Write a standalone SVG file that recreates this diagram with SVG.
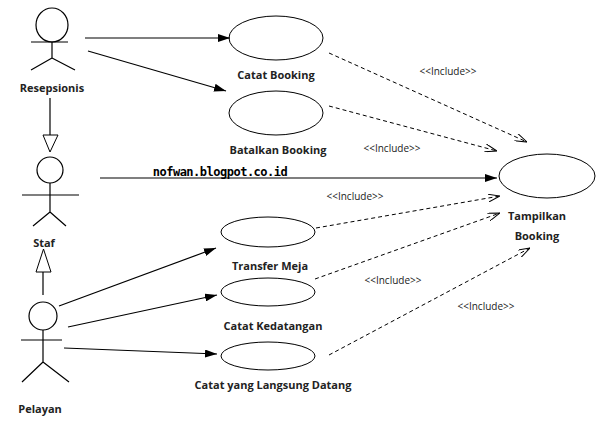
<svg xmlns="http://www.w3.org/2000/svg" width="615" height="425" viewBox="0 0 615 425">
<defs>
<marker id="a" markerWidth="12" markerHeight="8" refX="12" refY="4" orient="auto" markerUnits="userSpaceOnUse"><path d="M0,0 L12,4 L0,8 Z" fill="#000"/></marker>
<marker id="d" markerWidth="12" markerHeight="8" refX="12" refY="4" orient="auto" markerUnits="userSpaceOnUse"><path d="M0,0 L12,4 L0,8" fill="none" stroke="#000"/></marker>
<style>
text{font-family:"Open Sans","Liberation Sans",sans-serif;font-size:11px;font-weight:bold;fill:#222;text-anchor:middle}
.s{stroke:#000;stroke-width:1.2;fill:none}
.e{stroke:#000;stroke-width:1;fill:#fff}
.dash{stroke:#000;stroke-width:1;fill:none;stroke-dasharray:4,3}
.inc{font-size:10px;font-weight:normal}
</style>
</defs>
<rect width="615" height="425" fill="#fff"/>
<g id="resepsionis" class="s"><ellipse cx="52" cy="25" rx="16" ry="17"/><path d="M31,42H68M52,42V58M52,58L31,70M52,58L75,70"/><text x="52" y="92" stroke="none">Resepsionis</text></g>
<g id="staf" class="s"><circle cx="50" cy="170" r="13"/><path d="M22,195H79M50,183V212M50,212L33,226M50,212L66,226"/><text x="44" y="247" stroke="none">Staf</text></g>
<g id="pelayan" class="s"><circle cx="43" cy="316" r="14"/><path d="M21,340H62M43,330V362M43,362L22,382M43,362L69,382"/><text x="40" y="413" stroke="none">Pelayan</text></g>
<g id="uc1"><ellipse class="e" cx="276" cy="38" rx="47" ry="22"/><text x="276" y="79">Catat Booking</text></g>
<g id="uc2"><ellipse class="e" cx="276" cy="113" rx="47" ry="22"/><text x="278" y="154">Batalkan Booking</text></g>
<g id="uc3"><ellipse class="e" cx="547" cy="176" rx="48" ry="22"/><text x="537" y="220">Tampilkan</text><text x="537" y="240">Booking</text></g>
<g id="uc4"><ellipse class="e" cx="268" cy="232" rx="47" ry="15"/><text x="270" y="270">Transfer Meja</text></g>
<g id="uc5"><ellipse class="e" cx="268" cy="292" rx="47" ry="14"/><text x="273" y="330">Catat Kedatangan</text></g>
<g id="uc6"><ellipse class="e" cx="268" cy="356" rx="47" ry="14"/><text x="273" y="389">Catat yang Langsung Datang</text></g>
<g id="connectors">
<path class="s" d="M50,98V135"/><path d="M43,135H58L50,152Z" fill="#fff" stroke="#000"/>
<path class="s" d="M43,295V272"/><path d="M36,272H51L43.5,249Z" fill="#fff" stroke="#000"/>
<g class="s" marker-end="url(#a)">
<path d="M85,38H230"/><path d="M88,51L226,91"/><path d="M100,178H497"/><path d="M59,306L216,248"/><path d="M68,327L217,295"/><path d="M64,348L217,354"/>
</g>
<g class="dash" marker-end="url(#d)">
<path d="M329,53L527,142"/><path d="M329,106L497,151"/><path d="M316,228L500,196"/><path d="M315,279L500,213"/><path d="M329,355L530,248"/>
</g>
<text class="inc" x="448" y="75">&lt;&lt;Include&gt;&gt;</text>
<text class="inc" x="392" y="152">&lt;&lt;Include&gt;&gt;</text>
<text class="inc" x="355" y="200">&lt;&lt;Include&gt;&gt;</text>
<text class="inc" x="393" y="284">&lt;&lt;Include&gt;&gt;</text>
<text class="inc" x="486" y="310">&lt;&lt;Include&gt;&gt;</text>
</g>
<text x="220" y="176" style="font-family:'DejaVu Sans Mono',monospace;font-weight:900;font-size:12px;fill:#000;letter-spacing:-0.5px">nofwan.blogpot.co.id</text>
</svg>
